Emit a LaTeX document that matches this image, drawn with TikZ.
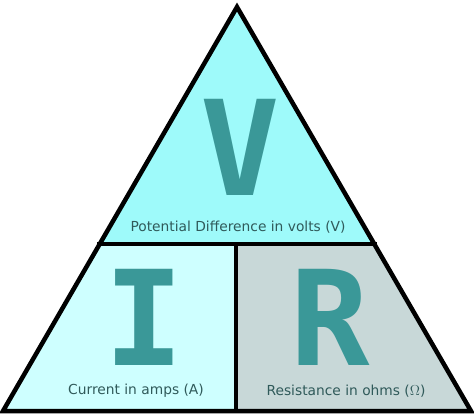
\documentclass[tikz,border=0pt]{standalone}
\usepackage{fontspec}
\usepackage{tikz}
\usetikzlibrary{calc}
\newfontfamily\bigfont{DejaVu Sans Mono}
\newfontfamily\capfont{DejaVu Sans}
\definecolor{topcyan}{RGB}{158,250,250}
\definecolor{leftcyan}{RGB}{206,255,255}
\definecolor{rightgray}{RGB}{200,216,216}
\definecolor{letterteal}{RGB}{58,152,152}
\definecolor{captiongray}{RGB}{48,90,90}
\begin{document}
\begin{tikzpicture}[x=1pt,y=1pt,yscale=-1,
    edge/.style={line width=4.5pt, line join=miter, line cap=rect},
    bigletter/.style={text=letterteal, font=\bigfont\bfseries\fontsize{132}{132}\selectfont, inner sep=0pt, text height=96pt, text depth=0pt},
    caption/.style={text=captiongray, font=\capfont\fontsize{13.8}{15}\selectfont, inner sep=0.75pt}]
    \useasboundingbox (0,0) rectangle (474,414);

    %Corners of the big triangle
    \coordinate (apex) at (237,7);
    \coordinate (bl) at (3,411);
    \coordinate (br) at (471,411);
    %Ends of the cross line and the divider
    \coordinate (crossl) at ($(apex)!0.5866!(bl)$);
    \coordinate (crossr) at ($(apex)!0.5866!(br)$);
    \coordinate (divtop) at (236,244);
    \coordinate (divbot) at (236,411);

    %Shape: top part (V)
    \fill [topcyan] (apex) -- (crossr) -- (crossl) -- cycle;
    %Shape: bottom left part (I)
    \fill [leftcyan] (crossl) -- (divtop) -- (divbot) -- (bl) -- cycle;
    %Shape: bottom right part (R)
    \fill [rightgray] (divtop) -- (crossr) -- (br) -- (divbot) -- cycle;

    %Straight Lines: outline, cross line, divider
    \draw [edge] (apex) -- (br) -- (bl) -- cycle;
    \draw [edge] (crossl) -- (crossr);
    \draw [edge] (divtop) -- (divbot);

    % Text Node: letters
    \node [bigletter] (volt) at (240,148) {V};
    \node [bigletter] (amp) at (144,317) {I};
    \node [bigletter] (ohm) at (330,317) {R};

    % Text Node: captions
    \node [caption] (voltcap) at (238,227) {Potential Difference in volts (V)};
    \node [caption] (ampcap) at (136,391) {Current in amps (A)};
    \node [caption] (ohmcap) at (346,391) {Resistance in ohms ($\Omega$)};
\end{tikzpicture}
\end{document}
